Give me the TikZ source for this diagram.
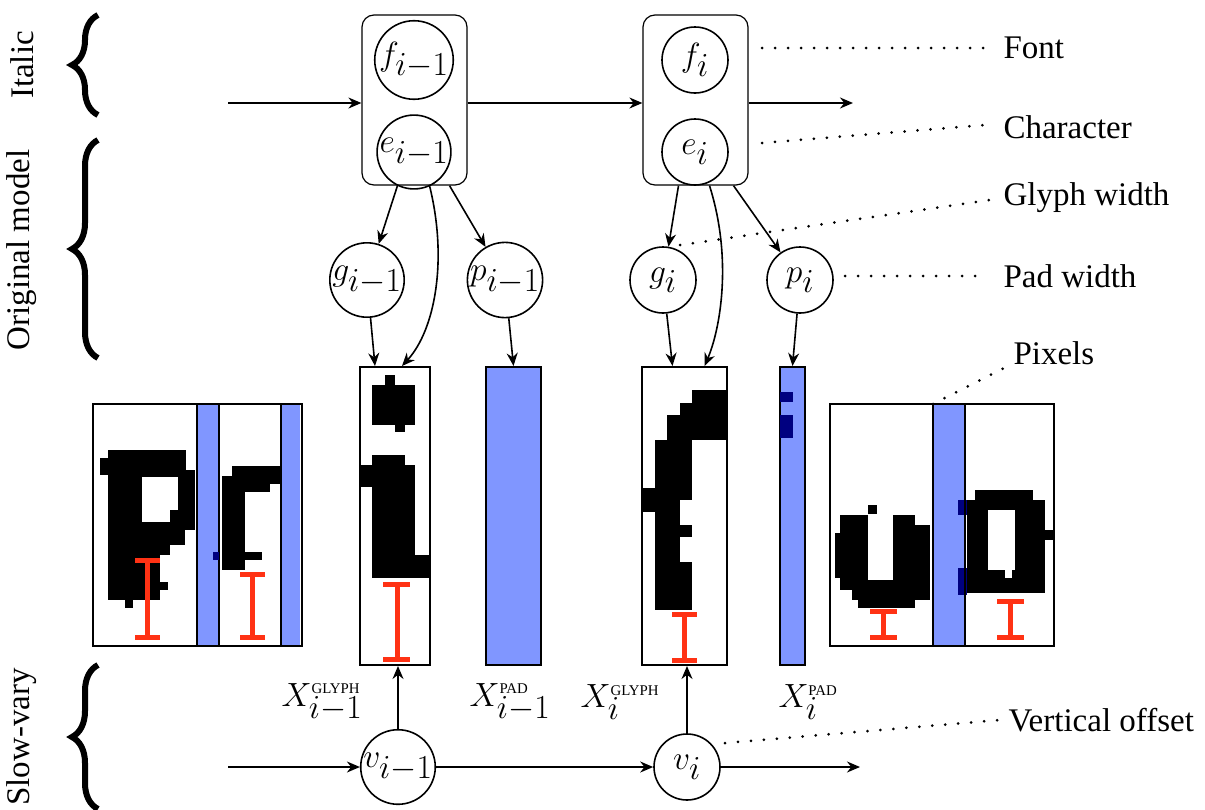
\documentclass[tikz,border=0pt]{standalone}
\usepackage{graphicx}
\usepackage{fontspec}
\setmainfont{Liberation Serif}
\usetikzlibrary{arrows.meta,decorations.pathreplacing,calc}
\newcommand\mbig[1]{\scalebox{1.35}{$#1$}}
\begin{document}
\begin{tikzpicture}[x=1pt,y=-1pt,
  every node/.style={font=\fontsize{33}{36}\selectfont},
  var/.style={draw,circle,line width=1.6pt,minimum size=66pt,inner sep=0pt},
  grp/.style={draw,rounded corners=12pt,line width=1.2pt,minimum width=105pt,minimum height=170pt},
  gbox/.style={draw,line width=2pt,inner sep=0pt},
  arr/.style={line width=1.6pt,-{Stealth[length=13pt,width=11pt]}},
  dots/.style={line width=3pt,line cap=round,dash pattern=on 0pt off 13pt},
  brace/.style={decorate,decoration={brace,amplitude=26pt},line width=6pt},
  blk/.style={fill=black},
  dk/.style={fill=blue!50!black}]
\useasboundingbox (0,0) rectangle (1205,809);
\definecolor{padc}{RGB}{128,150,255}
\definecolor{redc}{RGB}{255,50,20}
\tikzset{pad/.style={fill=padc},red/.style={draw=redc,line width=5pt}}
% braces and labels
\draw[brace] (98,115) -- (98,15);
\draw[brace] (98,358) -- (98,140);
\draw[brace] (98,809) -- (98,665);
\node[rotate=90] (lit) at (22,65) {Italic};
\node[rotate=90] (lorig) at (22,250) {Original model};
\node[rotate=90] (lslow) at (22,737) {Slow-vary};
% groups
\node[grp] (b1) at (414.5,100) {};
\node[grp] (b2) at (695.5,100) {};
\node[var] (f1) at (414,60) {\mbig{f_{i-1}}};
\node[var] (e1) at (414,152) {\mbig{e_{i-1}}};
\node[var] (f2) at (695,60) {\mbig{f_{i}}};
\node[var] (e2) at (695,152) {\mbig{e_{i}}};
\coordinate (hin) at (228,103);
\coordinate (hout) at (853,103);
\draw[arr] (hin) -- (hin -| b1.west);
\draw[arr] (b1.east |- hin) -- (b2.west |- hin);
\draw[arr] (b2.east |- hin) -- (hout);
% g, p
\node[var] (g1) at (367,280) {\mbig{g_{i-1}}};
\node[var] (p1) at (505,280) {\mbig{p_{i-1}}};
\node[var] (g2) at (663,280) {\mbig{g_{i}}};
\node[var] (p2) at (800,280) {\mbig{p_{i}}};
% glyph boxes
\node[gbox,minimum width=70pt,minimum height=298pt] (x1) at (395,516) {};
\node[gbox,pad,minimum width=55pt,minimum height=298pt] (q1) at (513.5,516) {};
\node[gbox,minimum width=85pt,minimum height=298pt] (x2) at (684.5,516) {};
\node[gbox,pad,minimum width=25pt,minimum height=298pt] (q2) at (792.5,516) {};
% arrows from groups
\draw[arr] ($(b1.south)+(-17,0)$) -- (g1);
\draw[arr] ($(b1.south)+(35,0)$) -- (p1);
\draw[arr] ($(b2.south)+(-17,0)$) -- (g2);
\draw[arr] ($(b2.south)+(38,0)$) -- (p2);
\draw[arr] ($(b1.south)+(15,0)$) .. controls (448,260) and (435,330) .. ($(x1.north)+(7,0)$);
\draw[arr] ($(b2.south)+(14,0)$) .. controls (733,260) and (720,330) .. ($(x2.north)+(20,0)$);
\draw[arr] (g1) -- ($(x1.north)+(-20,0)$);
\draw[arr] (p1) -- (q1.north);
\draw[arr] (g2) -- ($(x2.north)+(-12,0)$);
\draw[arr] (p2) -- (q2.north);
% glyph i
\fill[blk] (372,385) rectangle (415,425); \fill[blk] (385,375) rectangle (395,385); \fill[blk] (395,425) rectangle (405,432);
\fill[blk] (372,455) rectangle (405,578); \fill[blk] (405,465) rectangle (415,578); \fill[blk] (360,465) rectangle (372,487); \fill[blk] (415,555) rectangle (430,578);
\draw[red] (383,584) -- (410,584) (397,584) -- (397,659) (383,659) -- (410,659);
% glyph f
\fill[blk] (692,390) rectangle (727,440); \fill[blk] (680,403) rectangle (692,440); \fill[blk] (667,415) rectangle (680,440);
\fill[blk] (655,440) rectangle (680,610); \fill[blk] (680,440) rectangle (692,500);
\fill[blk] (642,488) rectangle (655,512); \fill[blk] (680,525) rectangle (692,537); \fill[blk] (680,562) rectangle (692,610);
\draw[red] (672,614) -- (697,614) (684.5,614) -- (684.5,660) (672,660) -- (697,660);
\fill[dk] (780,392) rectangle (793,402); \fill[dk] (780,415) rectangle (793,438);
% left context
\node[gbox,minimum width=209pt,minimum height=242pt] (cl) at (197.5,525) {};
\fill[pad] (197,404) rectangle (219,646); \fill[pad] (281,404) rectangle (300,646);
\draw[line width=2pt] (197,404) -- (197,646) (219,404) -- (219,646) (281,404) -- (281,646);
\fill[blk] (108,450) rectangle (186,470); \fill[blk] (100,458) rectangle (108,475); \fill[blk] (108,470) rectangle (195,530);
\fill[blk] (108,530) rectangle (185,545); \fill[blk] (108,545) rectangle (160,600); \fill[blk] (160,545) rectangle (170,555);
\fill[blk] (125,600) rectangle (133,608); \fill[blk] (160,582) rectangle (168,590);
\fill[white] (142,477) rectangle (170,522); \fill[white] (170,477) rectangle (178,510);
\fill[blk] (222,476) rectangle (245,570); \fill[blk] (232,466) rectangle (280,484); \fill[blk] (245,484) rectangle (270,492); \fill[blk] (245,552) rectangle (262,560);
\fill[dk] (213,552) rectangle (219,560);
\draw[red] (135,560) -- (160,560) (147.5,560) -- (147.5,637) (135,637) -- (160,637);
\draw[red] (240,574) -- (265,574) (252.5,574) -- (252.5,637) (240,637) -- (265,637);
\draw[line width=2pt] (93,404) rectangle (302,646);
% right context
\node[gbox,minimum width=224pt,minimum height=242pt] (cr) at (942,525) {};
\fill[pad] (933,404) rectangle (965,646);
\fill[blk] (840,515) rectangle (930,600); \fill[blk] (835,533) rectangle (840,578); \fill[blk] (868,505) rectangle (877,515);
\fill[white] (868,514) rectangle (893,580); \fill[white] (840,590) rectangle (852,600); \fill[white] (915,515) rectangle (930,525);
\fill[blk] (858,600) rectangle (915,608);
\fill[blk] (975,490) rectangle (1033,500); \fill[blk] (967,500) rectangle (1045,593); \fill[blk] (1045,530) rectangle (1054,540);
\fill[white] (988,510) rectangle (1015,570); \fill[white] (1045,540) rectangle (1054,570); \fill[white] (1005,570) rectangle (1012,578);
\fill[dk] (958,500) rectangle (967,515); \fill[dk] (958,568) rectangle (967,595);
\draw[line width=2pt] (933,404) -- (933,646) (965,404) -- (965,646);
\draw[red] (870,611) -- (897,611) (883.5,611) -- (883.5,637) (870,637) -- (897,637);
\draw[red] (997,601) -- (1024,601) (1010.5,601) -- (1010.5,637) (997,637) -- (1024,637);
\draw[line width=2pt] (830,404) rectangle (1054,646);
% X labels
\node (lx1) at (322,702) {\mbig{X^{\hbox{\fontsize{11}{11}\selectfont GLYPH}}_{i-1}}};
\node (lq1) at (510,702) {\mbig{X^{\hbox{\fontsize{11}{11}\selectfont PAD}}_{i-1}}};
\node (lx2) at (620,702) {\mbig{X^{\hbox{\fontsize{11}{11}\selectfont GLYPH}}_{i}}};
\node (lq2) at (808,702) {\mbig{X^{\hbox{\fontsize{11}{11}\selectfont PAD}}_{i}}};
% v
\node[var] (v1) at (398,767) {\mbig{v_{i-1}}};
\node[var] (v2) at (687,767) {\mbig{v_{i}}};
\coordinate (vin) at (228,767);
\coordinate (vout) at (860,767);
\draw[arr] (vin) -- (v1);
\draw[arr] (v1) -- (v2);
\draw[arr] (v2) -- (vout);
\draw[arr] (v1) -- (x1.south -| v1);
\draw[arr] (v2) -- (x2.south -| v2);
% right labels
\node[anchor=west] (tf) at (1000,48) {Font};
\node[anchor=west] (tc) at (1000,127) {Character};
\node[anchor=west] (tg) at (1000,198) {Glyph width};
\node[anchor=west] (tp) at (1000,276) {Pad width};
\node[anchor=west] (tx) at (1010,353) {Pixels};
\node[anchor=west] (tv) at (1005,720) {Vertical offset};
\draw[dots] (762,48) -- (985,48);
\draw[dots] (762,143) -- (985,125);
\draw[dots] (680,245) -- (990,200);
\draw[dots] (845,276) -- (985,276);
\draw[dots] (933,404) -- (1010,365);
\draw[dots] (725,743) -- (1000,720);
\end{tikzpicture}
\end{document}
